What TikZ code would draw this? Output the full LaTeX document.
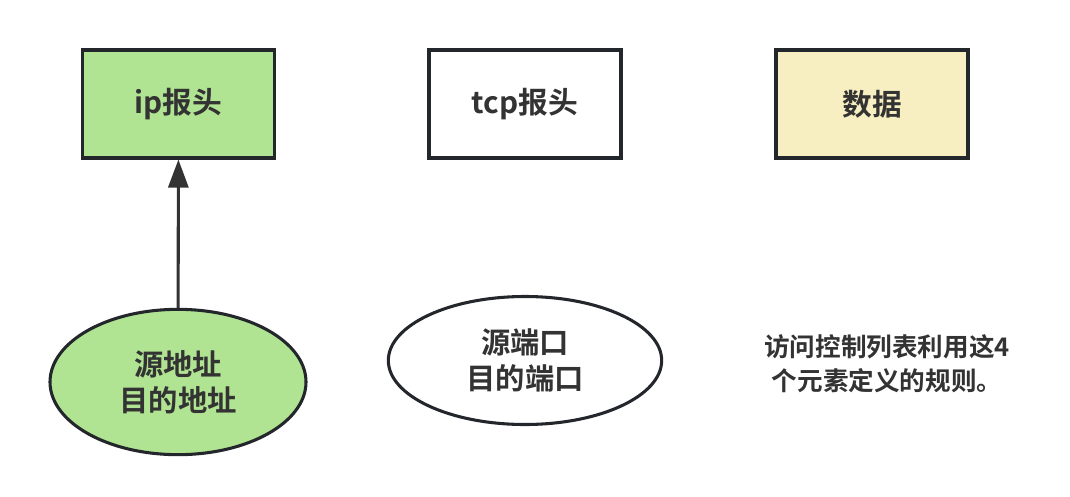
\documentclass[tikz,border=0pt]{standalone}
\usepackage{fontspec}
\newfontfamily\cjk{Noto Sans CJK SC}[BoldFont={* Bold}]
\usetikzlibrary{shapes.geometric,arrows.meta}
\definecolor{edge}{HTML}{23272C}
\definecolor{txt}{HTML}{333333}
\definecolor{grn}{HTML}{B0E392}
\definecolor{ylw}{HTML}{F7EEC1}
\tikzset{
  box/.style={draw=edge,line width=2.3pt,minimum width=144pt,minimum height=81pt,inner sep=0pt,
    font=\cjk\bfseries\fontsize{22.3}{26}\selectfont,text=txt},
  oval/.style={draw=edge,line width=2.3pt,ellipse,inner sep=0pt,align=center,
    font=\cjk\bfseries\fontsize{22}{27}\selectfont,text=txt},
  note/.style={align=center,font=\cjk\bfseries\fontsize{19.2}{25.5}\selectfont,text=txt},
  link/.style={draw=txt,line width=2.3pt,-{Triangle[length=21pt,width=15pt]}}
}
\begin{document}
\begin{tikzpicture}[x=0.75pt,y=-0.75pt]
\useasboundingbox (0,0) rectangle (1070,496);
\node[box,fill=grn] (ip) at (178.5,104) {ip报头};
\node[box] (tcp) at (525,104) {tcp报头};
\node[box,fill=ylw] (data) at (872,104) {数据};
\node[oval,fill=grn,minimum width=192pt,minimum height=109pt] (addr) at (178,382) {源地址\\目的地址};
\node[oval,minimum width=205pt,minimum height=96pt] (port) at (525,360.5) {源端口\\目的端口};
\node[note] (acl) at (887,364) {访问控制列表利用这4\\个元素定义的规则。};
\draw[link] (addr) -- (ip);
\end{tikzpicture}
\end{document}
